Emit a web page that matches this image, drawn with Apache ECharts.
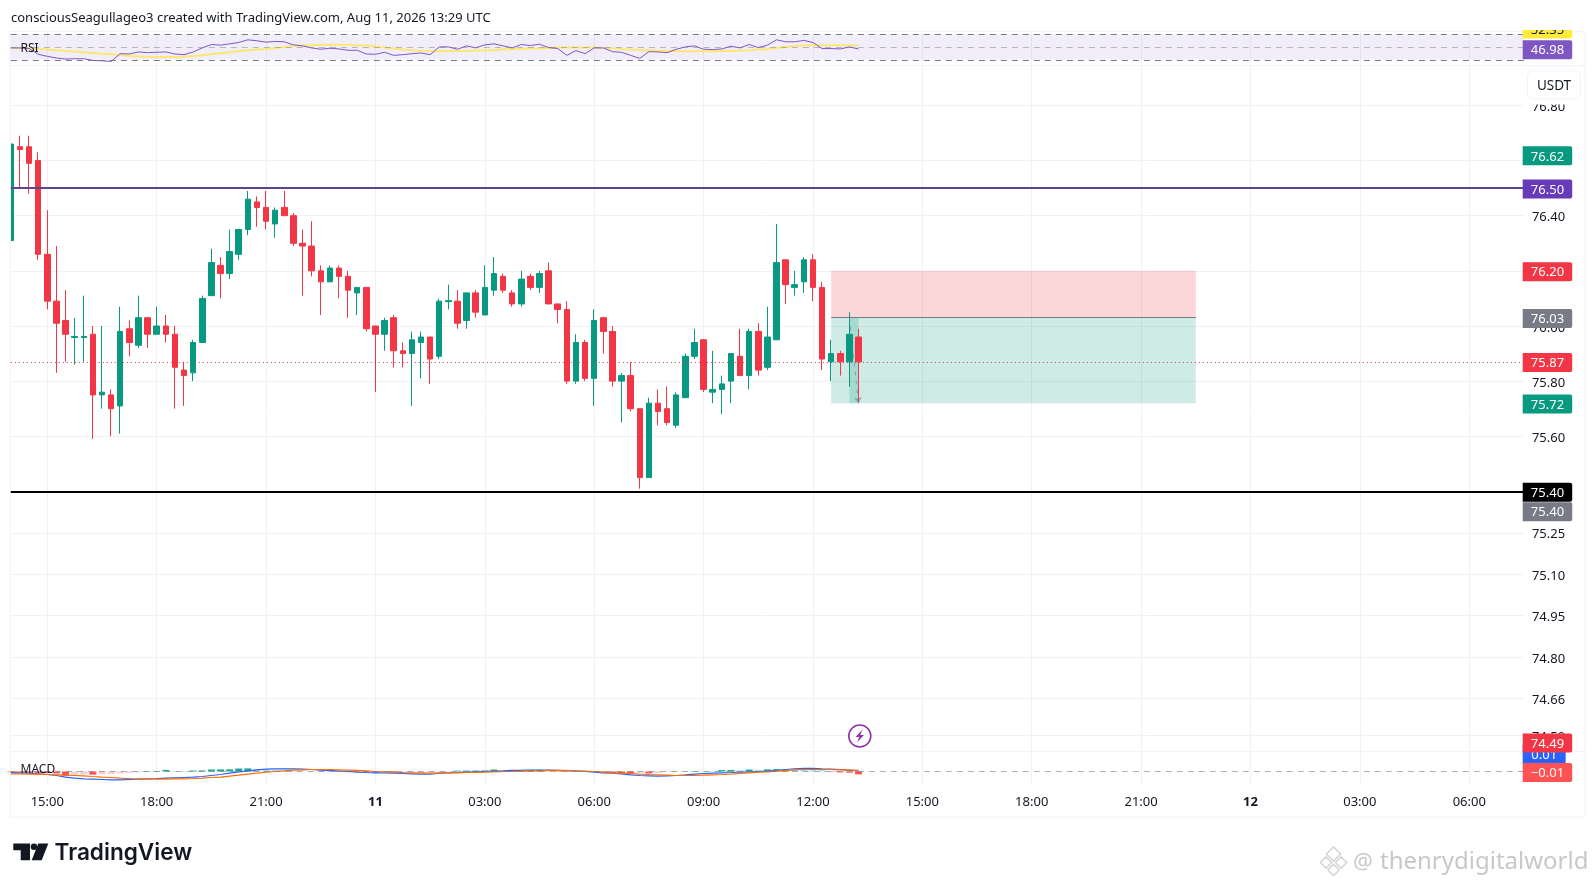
<!DOCTYPE html>
<html>
<head>
<meta charset="utf-8">
<style>html,body{margin:0;padding:0;background:#fff;overflow:hidden}#c{width:1596px;height:886px}</style>
<script src="https://cdn.jsdelivr.net/npm/echarts@6/dist/echarts.min.js"></script>
</head>
<body>
<div id="c"></div>
<script>
// ---------- data ----------
const timeTickLabels = ['15:00','18:00','21:00','11','03:00','06:00','09:00','12:00','15:00','18:00','21:00','12','03:00','06:00'];
const priceTicks = [76.8,76.6,76.4,76.2,76.0,75.8,75.6,75.4,75.25,75.1,74.95,74.8,74.648,74.516];
const priceTickLabels = ['76.80','','76.40','76.20','76.00','75.80','75.60','75.40','75.25','75.10','74.95','74.80','74.66','74.50'];

const open = [76.31,76.65,76.65,76.60,76.26,76.09,76.02,75.958,75.958,75.97,75.75,75.75,75.71,75.99,75.93,76.03,75.97,76.00,75.97,75.84,75.83,75.94,76.11,76.22,76.19,76.26,76.35,76.45,76.43,76.37,76.43,76.40,
76.30,76.29,76.20,76.16,76.21,76.18,76.12,76.14,76.00,75.97,76.03,75.91,75.90,75.94,75.96,75.89,76.088,76.09,76.02,76.12,76.04,76.13,76.18,76.12,76.08,76.18,76.14,76.20,76.08,76.06,75.80,75.94,
75.81,76.03,75.98,75.80,75.82,75.70,75.45,75.72,75.70,75.64,75.74,75.89,75.95,75.76,75.77,75.80,75.89,75.82,75.98,75.85,75.95,76.24,76.14,76.16,76.24,76.14,75.87,75.90,75.87,75.96];
const close = [76.66,76.64,76.59,76.26,76.09,76.01,75.97,75.962,75.962,75.75,75.76,75.70,75.98,75.94,76.03,75.97,76.00,75.97,75.85,75.82,75.94,76.10,76.23,76.19,76.27,76.35,76.46,76.43,76.38,76.42,76.40,76.30,
76.29,76.20,76.16,76.21,76.18,76.13,76.14,75.99,75.97,76.02,75.91,75.90,75.95,75.96,75.88,76.09,76.092,76.01,76.12,76.05,76.14,76.19,76.13,76.08,76.17,76.14,76.19,76.08,76.06,75.80,75.94,75.81,
76.02,75.98,75.80,75.82,75.70,75.45,75.72,75.69,75.65,75.75,75.89,75.94,75.77,75.77,75.79,75.90,75.82,75.98,75.84,75.96,76.23,76.15,76.15,76.24,76.14,75.88,75.90,75.87,75.97,75.87];
const low = [76.28,76.50,76.48,76.24,76.06,75.83,75.87,75.86,75.87,75.59,75.70,75.60,75.61,75.89,75.92,75.92,75.97,75.94,75.70,75.71,75.80,75.94,76.11,76.10,76.17,76.24,76.33,76.36,76.35,76.32,76.40,76.29,
76.11,76.18,76.04,76.16,76.10,76.03,76.04,75.98,75.76,75.91,75.85,75.85,75.71,75.81,75.79,75.88,76.06,75.99,75.99,76.03,76.04,76.11,76.12,76.07,76.07,76.13,76.12,76.08,76.01,75.79,75.79,75.80,
75.71,75.90,75.78,75.65,75.69,75.41,75.45,75.64,75.64,75.63,75.74,75.88,75.76,75.72,75.68,75.72,75.82,75.77,75.82,75.84,75.95,76.08,76.11,76.12,76.09,75.84,75.80,75.82,75.78,75.72];
const high = [76.69,76.69,76.69,76.63,76.42,76.29,76.13,76.03,76.11,76.00,76.00,75.77,76.07,76.02,76.11,76.03,76.07,76.04,76.00,75.87,75.95,76.11,76.28,76.25,76.35,76.35,76.49,76.47,76.49,76.43,76.49,76.41,
76.35,76.38,76.22,76.22,76.22,76.20,76.14,76.14,76.00,76.03,76.04,75.94,75.98,75.98,75.96,76.10,76.15,76.13,76.12,76.13,76.22,76.25,76.19,76.13,76.20,76.19,76.20,76.23,76.08,76.09,75.97,75.95,
76.06,76.03,76.00,75.83,75.87,75.70,75.74,75.77,75.78,75.76,75.90,75.99,75.95,75.91,75.82,75.90,75.99,75.99,76.01,76.07,76.37,76.24,76.20,76.25,76.26,76.16,75.95,75.91,76.05,75.99];

const rsiValues = [48.6,48.6,47.6,38.6,35.4,32.8,31.2,31.7,31.7,29.0,28.5,27.5,39.6,39.1,42.3,41.2,41.8,42.3,39.1,38.0,42.3,48.6,53.9,52.9,55.0,57.1,61.3,59.8,57.6,58.7,58.2,53.4,51.8,48.6,46.5,48.1,47.0,44.9,44.9,39.1,38.6,41.8,37.0,38.0,39.6,40.7,38.0,50.2,50.2,46.5,51.8,48.6,53.4,55.0,
51.8,48.6,53.9,52.3,54.4,49.2,47.6,37.0,44.4,39.6,48.6,48.6,42.8,41.7,37.0,32.2,42.8,42.3,41.2,46.5,50.2,51.8,46.5,46.0,47.0,51.3,48.6,53.9,49.2,52.9,61.3,58.2,58.2,60.3,57.1,47.6,47.6,47.0,50.2,46.98];
const rsiMa = [48.6,48.6,48.1,47.0,46.0,44.9,43.9,42.8,41.8,40.7,39.6,38.6,37.5,36.5,35.4,34.9,34.3,34.3,34.3,34.9,35.9,37.0,38.6,40.2,41.8,43.3,44.9,46.0,47.0,48.6,50.2,51.8,52.3,52.9,53.4,53.4,53.4,53.4,52.9,52.3,50.8,49.2,47.6,46.0,44.9,43.9,43.3,43.3,43.9,43.9,43.9,44.4,44.9,44.9,
46.5,47.0,47.0,47.6,47.6,48.6,49.2,49.2,49.2,49.2,49.2,48.6,48.1,47.0,46.0,45.4,44.9,44.4,43.9,43.3,43.3,43.3,43.3,43.3,43.9,43.9,44.4,44.9,46.0,47.0,48.6,50.2,51.8,52.9,52.9,52.9,52.9,52.9,52.9,52.35];
const rsiBands = [70,50,30];

const macdLine = [-.013,-.017,-.021,-.029,-.038,-.05,-.071,-.083,-.092,-.096,-.1,-.104,-.104,-.1,-.096,-.092,-.088,-.083,-.079,-.075,-.071,-.063,-.05,-.038,-.021,-.004,.008,.021,.029,.033,.033,.033,.029,.025,.017,.013,.004,0,-.008,-.013,-.017,-.017,-.021,-.025,-.029,-.033,-.033,
-.021,-.017,-.013,-.008,-.004,0,.004,.008,.013,.013,.017,.017,.017,.013,.008,.008,0,-.008,-.017,-.021,-.029,-.042,-.05,-.054,-.058,-.054,-.05,-.042,-.033,-.025,-.021,-.017,-.013,-.008,-.004,0,.004,.013,.025,.033,.038,.038,.033,.029,.025,.017,.008];
const macdSignal = [-.029,-.029,-.033,-.033,-.038,-.042,-.046,-.05,-.054,-.063,-.071,-.075,-.083,-.088,-.092,-.096,-.096,-.096,-.092,-.092,-.088,-.083,-.075,-.071,-.058,-.046,-.033,-.021,-.008,0,.008,.017,.021,.025,.025,.025,.021,.017,.013,.008,0,-.004,-.008,-.013,-.017,-.017,-.021,
-.021,-.017,-.017,-.013,-.013,-.008,-.004,0,0,.004,.008,.008,.013,.013,.013,.008,.004,0,-.008,-.017,-.021,-.025,-.033,-.038,-.042,-.046,-.05,-.05,-.05,-.046,-.042,-.038,-.033,-.025,-.017,-.008,-.004,.004,.013,.021,.025,.025,.025,.025,.021,.017,.013];
const macdHist = [-.006,-.01,-.015,-.018,-.02,-.025,-.05,-.04,-.035,-.04,-.035,-.03,-.025,-.02,-.012,.005,.007,.02,.008,.006,.012,.013,.025,.026,.027,.037,.039,.032,.025,.018,.012,.006,.003,.001,-.004,-.005,-.006,-.007,-.008,-.012,-.013,-.012,-.014,-.013,-.012,-.01,-.008,-.006,-.003,.01,.011,.012,.013,.024,.018,.019,.02,.021,.022,.008,-.004,-.003,-.004,-.005,-.004,-.005,-.018,-.019,-.02,-.015,-.025,-.02,-.008,-.006,-.003,.006,.005,.004,.018,.019,.017,.024,.02,.026,.03,.031,.028,.026,.024,.02,-.005,-.012,-.014,-.036];

const levelPurple = 76.50, levelBlack = 75.40, lastPrice = 75.87;
const stopPrice = 76.20, entryPrice = 76.03, targetPrice = 75.72;
const posStartIdx = 90, posEndIdx = 130, tradeStartIdx = 92, tradeEndIdx = 93;

const priceTagValues = [76.62,76.50,76.20,76.03,75.87,75.72,75.40,75.40,74.49];
const priceTagTexts  = ['76.62','76.50','76.20','76.03','75.87','75.72','75.40','75.40','74.49'];
const rsiTagValues = [52.35,46.98];
const macdTagValues = [0.01,-0.01];
const macdTagTexts = ['0.01','\u22120.01'];

// ---------- style and layout ----------
const UP = '#089981', DOWN = '#F23645', GRID = '#eff1f4', FONT = '"Noto Sans", sans-serif', INK = '#131722';
const priceTagColors = [UP,'#673ab7',DOWN,'#787b86',DOWN,UP,'#000000','#787b86',DOWN];
const rsiTagColors = ['#ffeb3b','#7e57c2'], rsiTagInk = ['#131722','#ffffff'], rsiShift = [-17.3,0];
const macdTagColors = ['#2962ff','#ff5252'], macdTagWidth = [43,49.5], macdShift = [-17.5,-0.6];
const STEP = 9.115, L = 47.3 - 4 * STEP, BANDS = 166, R = 1596 - (L + STEP * BANDS);
const TAG_X = 1522.7, TAG_H = 19, TAG_DY = 0.8, TEXT_DY = 1;

const categories = Array.from({length: BANDS + 1}, (_, i) => i);
const isTick = i => i >= 4 && (i - 4) % 12 === 0;
const gridsCommon = {left: L, right: R};
const ohlc = open.map((o, i) => [o, close[i], low[i], high[i]]);
const blanks = open.map(() => null);

function tag(yv, fill, text, ink, width) {
  const y = yv + TAG_DY;
  return {type: 'group', children: [
    {type: 'rect', shape: {x: TAG_X, y: y - TAG_H / 2, width, height: TAG_H, r: [0, 2, 2, 0]}, style: {fill}},
    {type: 'text', style: {text, x: TAG_X + width / 2, y: y + TEXT_DY, align: 'center', verticalAlign: 'middle', fill: ink, font: '13px ' + FONT}}
  ]};
}
function xAxis(gridIndex, showLabels) {
  return {
    type: 'category', gridIndex, data: categories, boundaryGap: false,
    axisLine: {show: false}, axisTick: {show: false},
    splitLine: {show: true, interval: i => isTick(i), lineStyle: {color: GRID, width: 1}},
    axisLabel: {
      show: showLabels, interval: i => isTick(i), margin: 11, color: INK, fontFamily: FONT, fontSize: 13,
      formatter: (v, i) => { const t = timeTickLabels[(i - 4) / 12]; return t && t.length < 3 ? '{b|' + t + '}' : (t || ''); },
      rich: {b: {fontWeight: 'bold', fontFamily: FONT, fontSize: 13, color: INK}}
    }
  };
}
const hLine = (v, color, width, type) => ({yAxis: v, lineStyle: {color, width, type}});

const option = {
  animation: false, backgroundColor: '#fff',
  grid: [
    Object.assign({top: 32, height: 33.5}, gridsCommon),
    Object.assign({top: 65.5, height: 685.5}, gridsCommon),
    Object.assign({top: 751, height: 34}, gridsCommon)
  ],
  xAxis: [xAxis(0, false), xAxis(1, false), xAxis(2, true)],
  yAxis: [
    {type: 'value', gridIndex: 0, min: 21.1, max: 73.5, position: 'right', axisLabel: {show: false}, axisLine: {show: false}, axisTick: {show: false}, splitLine: {show: false}},
    {type: 'value', gridIndex: 1, min: 74.4584, max: 76.9448, position: 'right',
      axisLine: {show: false}, axisTick: {show: false, customValues: priceTicks},
      splitLine: {show: true, lineStyle: {color: GRID, width: 1}},
      axisLabel: {customValues: priceTicks, margin: 8, color: INK, fontFamily: FONT, fontSize: 13,
        formatter: v => '{a|' + (priceTickLabels[priceTicks.indexOf(v)] || ' ') + '}',
        rich: {a: {padding: [4, 0, 0, 0], color: INK, fontFamily: FONT, fontSize: 13}}}},
    {type: 'value', gridIndex: 2, min: -0.169, max: 0.256, position: 'right', axisLabel: {show: false}, axisLine: {show: false}, axisTick: {show: false}, splitLine: {show: false}}
  ],
  series: [
    // RSI pane
    {type: 'line', name: 'rsi-bands', xAxisIndex: 0, yAxisIndex: 0, data: blanks, z: 1, symbol: 'none', silent: true,
      markArea: {silent: true, itemStyle: {color: 'rgba(126,87,194,0.1)'}, data: [[{xAxis: 0, yAxis: rsiBands[0]}, {xAxis: BANDS, yAxis: rsiBands[2]}]]},
      markLine: {silent: true, symbol: 'none', label: {show: false}, data: [
        hLine(rsiBands[0], '#787b86', 1, [6, 5]), hLine(rsiBands[1], 'rgba(120,123,134,0.5)', 1, [6, 5]), hLine(rsiBands[2], '#787b86', 1, [6, 5])]}},
    {type: 'line', name: 'RSI-based MA', xAxisIndex: 0, yAxisIndex: 0, data: rsiMa, z: 2, symbol: 'none', silent: true, lineStyle: {color: '#ffe552', width: 2, opacity: 0.8}},
    {type: 'line', name: 'RSI', xAxisIndex: 0, yAxisIndex: 0, data: rsiValues, z: 3, symbol: 'none', silent: true, lineStyle: {color: '#7e57c2', width: 1}},
    {type: 'custom', name: 'rsi-tags', xAxisIndex: 0, yAxisIndex: 0, z: 9, silent: true,
      data: rsiTagValues.map((v, i) => [0, v, i]),
      renderItem: (p, api) => { const i = api.value(2), y = api.coord([0, api.value(1)])[1] + rsiShift[i];
        return tag(y, rsiTagColors[i], rsiTagValues[i].toFixed(2), rsiTagInk[i], 49.5); }},

    // main pane: levels and the position drawing behind the candles
    {type: 'line', name: 'levels', xAxisIndex: 1, yAxisIndex: 1, data: blanks, z: 1, symbol: 'none', silent: true,
      markArea: {silent: true, data: [
        [{xAxis: posStartIdx, yAxis: stopPrice, itemStyle: {color: 'rgba(242,54,69,0.2)'}}, {xAxis: posEndIdx, yAxis: entryPrice}],
        [{xAxis: posStartIdx, yAxis: entryPrice, itemStyle: {color: 'rgba(8,153,129,0.2)'}}, {xAxis: posEndIdx, yAxis: targetPrice}],
        [{xAxis: tradeStartIdx, yAxis: entryPrice, itemStyle: {color: 'rgba(8,153,129,0.2)'}}, {xAxis: tradeEndIdx, yAxis: targetPrice}]
      ]},
      markLine: {silent: true, symbol: 'none', label: {show: false}, data: [
        hLine(levelPurple, '#5e4296', 2, 'solid'),
        hLine(levelBlack, '#000000', 2, 'solid'),
        hLine(lastPrice, '#c83c4b', 1, [1, 3]),
        [{xAxis: posStartIdx, yAxis: entryPrice, lineStyle: {color: '#787b86', width: 1, type: 'solid'}}, {xAxis: posEndIdx, yAxis: entryPrice}]
      ]}},
    {type: 'candlestick', name: 'Price', xAxisIndex: 1, yAxisIndex: 1, data: ohlc, z: 3, barWidth: 6, silent: true,
      itemStyle: {color: UP, color0: DOWN, borderColor: UP, borderColor0: DOWN, borderWidth: 1}},
    {type: 'line', name: 'trade-path', xAxisIndex: 1, yAxisIndex: 1, data: blanks, z: 4, symbol: 'none', silent: true,
      markLine: {silent: true, symbol: ['none', 'arrow'], symbolSize: 6, label: {show: false}, data: [
        [{xAxis: tradeStartIdx, yAxis: entryPrice, lineStyle: {color: '#787b86', width: 1, type: [4, 5], opacity: 0.6}}, {xAxis: tradeEndIdx, yAxis: targetPrice}]
      ]}},
    {type: 'custom', name: 'macd-tags-blue', xAxisIndex: 2, yAxisIndex: 2, z: 8, silent: true,
      data: [[0, macdTagValues[0], 0]],
      renderItem: (p, api) => tag(api.coord([0, api.value(1)])[1] + macdShift[0], macdTagColors[0], macdTagTexts[0], '#fff', macdTagWidth[0])},
    {type: 'custom', name: 'price-tags', xAxisIndex: 1, yAxisIndex: 1, z: 10, silent: true,
      data: priceTagValues.map((v, i) => [0, v, i]),
      renderItem: (p, api) => { const i = api.value(2);
        const nudge = i > 0 && priceTagValues[i - 1] === priceTagValues[i] ? TAG_H + 0.5 : 0;
        return tag(api.coord([0, api.value(1)])[1] + nudge, priceTagColors[i], priceTagTexts[i], '#fff', 49.5); }},

    // MACD pane
    {type: 'line', name: 'macd-zero', xAxisIndex: 2, yAxisIndex: 2, data: blanks, z: 1, symbol: 'none', silent: true,
      markLine: {silent: true, symbol: 'none', label: {show: false}, data: [hLine(0, 'rgba(120,123,134,0.6)', 1, [6, 5])]}},
    {type: 'bar', name: 'Histogram', xAxisIndex: 2, yAxisIndex: 2, data: macdHist, z: 2, barWidth: 7, silent: true,
      itemStyle: {color: p => {
        const v = p.value, prev = p.dataIndex > 0 ? macdHist[p.dataIndex - 1] : 0;
        return v >= 0 ? (v >= prev ? '#22ab94' : '#ace5dc') : (v < prev ? '#ff5252' : '#fccbcd');
      }}},
    {type: 'line', name: 'MACD', xAxisIndex: 2, yAxisIndex: 2, data: macdLine, z: 3, symbol: 'none', silent: true, lineStyle: {color: '#2962ff', width: 1.2}},
    {type: 'line', name: 'Signal', xAxisIndex: 2, yAxisIndex: 2, data: macdSignal, z: 3, symbol: 'none', silent: true, lineStyle: {color: '#ff6d00', width: 1.2}},
    {type: 'custom', name: 'macd-tags-red', xAxisIndex: 2, yAxisIndex: 2, z: 11, silent: true,
      data: [[0, macdTagValues[1], 1]],
      renderItem: (p, api) => tag(api.coord([0, api.value(1)])[1] + macdShift[1], macdTagColors[1], macdTagTexts[1], '#fff', macdTagWidth[1])}
  ],
  graphic: {elements: [
    // pane separators and frame
    {type: 'rect', z: 0, silent: true, shape: {x: 10.5, y: 31.5, width: 1574.5, height: 785.5}, style: {fill: 'none', stroke: '#f0f3fa', lineWidth: 1}},
    {type: 'line', z: 0, silent: true, shape: {x1: 11, y1: 65.5, x2: 1585, y2: 65.5}, style: {stroke: '#f0f3fa', lineWidth: 1}},
    {type: 'line', z: 0, silent: true, shape: {x1: 11, y1: 751.5, x2: 1585, y2: 751.5}, style: {stroke: '#f0f3fa', lineWidth: 1}},
    // the first candle is cut at the pane's left edge
    {type: 'rect', z: 5, silent: true, shape: {x: 0, y: 66, width: 10.5, height: 685}, style: {fill: '#fff'}},
    {type: 'line', z: 5, silent: true, shape: {x1: 10.5, y1: 66, x2: 10.5, y2: 751}, style: {stroke: '#f0f3fa', lineWidth: 1}},
    // header
    {type: 'text', z: 100, style: {text: 'consciousSeagullageo3 created with TradingView.com, Aug 11, 2026 13:29 UTC', x: 11, y: 18.5, verticalAlign: 'middle', fill: INK, font: '13px ' + FONT}},
    // cover so the yellow tag is cut at the top of the pane
    {type: 'rect', z: 100, silent: true, shape: {x: 1520, y: 15, width: 56, height: 15}, style: {fill: '#fff'}},
    // pane captions
    {type: 'text', z: 100, style: {text: 'RSI', x: 20.5, y: 49, verticalAlign: 'middle', fill: INK, font: '12px ' + FONT}},
    {type: 'text', z: 100, style: {text: 'MACD', x: 20.5, y: 770, verticalAlign: 'middle', fill: INK, font: '12px ' + FONT}},
    // currency box; it cuts the top of the 76.80 label
    {type: 'rect', z: 100, silent: true, shape: {x: 1526, y: 69, width: 56, height: 35.5}, style: {fill: '#fff'}},
    {type: 'rect', z: 101, silent: true, shape: {x: 1527.5, y: 71, width: 53, height: 28, r: 5}, style: {fill: '#fff', stroke: '#f0f3fa', lineWidth: 1}},
    {type: 'text', z: 102, style: {text: 'USDT', x: 1554, y: 86, align: 'center', verticalAlign: 'middle', fill: INK, font: '13.5px ' + FONT}},
    // lightning badge
    {type: 'circle', z: 100, silent: true, shape: {cx: 859.8, cy: 736, r: 11}, style: {fill: '#fff', stroke: '#8e33a8', lineWidth: 1.6}},
    {type: 'polygon', z: 101, silent: true, shape: {points: [[862.5,729.5],[855.5,737],[859.3,737],[857,742.5],[864,735],[860.2,735]]}, style: {fill: '#8e33a8'}},
    // TradingView logo
    {type: 'polygon', z: 100, silent: true, shape: {points: [[13.3,843.6],[30,843.6],[30,860.3],[20.7,860.3],[20.7,850.3],[13.3,850.3]]}, style: {fill: '#131722'}},
    {type: 'circle', z: 100, silent: true, shape: {cx: 34, cy: 846.7, r: 3.3}, style: {fill: '#131722'}},
    {type: 'polygon', z: 100, silent: true, shape: {points: [[38.3,843.6],[48.3,843.6],[41.7,860.3],[31.7,860.3]]}, style: {fill: '#131722'}},
    {type: 'text', z: 100, style: {text: 'TradingView', x: 54.5, y: 853, verticalAlign: 'middle', fill: '#131722', font: '600 22.6px Inter, sans-serif'}},
    // watermark
    {type: 'group', z: 100, silent: true, children: [
      {type: 'rect', x: 1333.5, y: 854, rotation: Math.PI / 4, silent: true, shape: {x: -5, y: -5, width: 10, height: 10}, style: {fill: 'none', stroke: '#d5d5d5', lineWidth: 1.5}},
      {type: 'rect', x: 1326, y: 862.5, rotation: Math.PI / 4, silent: true, shape: {x: -4, y: -4, width: 8, height: 8}, style: {fill: 'none', stroke: '#d5d5d5', lineWidth: 1.5}},
      {type: 'rect', x: 1341, y: 862.5, rotation: Math.PI / 4, silent: true, shape: {x: -4, y: -4, width: 8, height: 8}, style: {fill: 'none', stroke: '#d5d5d5', lineWidth: 1.5}},
      {type: 'rect', x: 1333.5, y: 870, rotation: Math.PI / 4, silent: true, shape: {x: -4, y: -4, width: 8, height: 8}, style: {fill: 'none', stroke: '#d5d5d5', lineWidth: 1.5}}
    ]},
    {type: 'text', z: 100, style: {text: '@', x: 1353, y: 862.5, verticalAlign: 'middle', fill: '#c8c8c8', font: '22px ' + FONT}},
    {type: 'text', z: 100, style: {text: 'thenrydigitalworld', x: 1380, y: 862.5, verticalAlign: 'middle', fill: '#c8c8c8', font: '24px ' + FONT}}
  ]}
};
echarts.init(document.getElementById('c'), null, {renderer: 'canvas'}).setOption(option);
</script>
</body>
</html>
